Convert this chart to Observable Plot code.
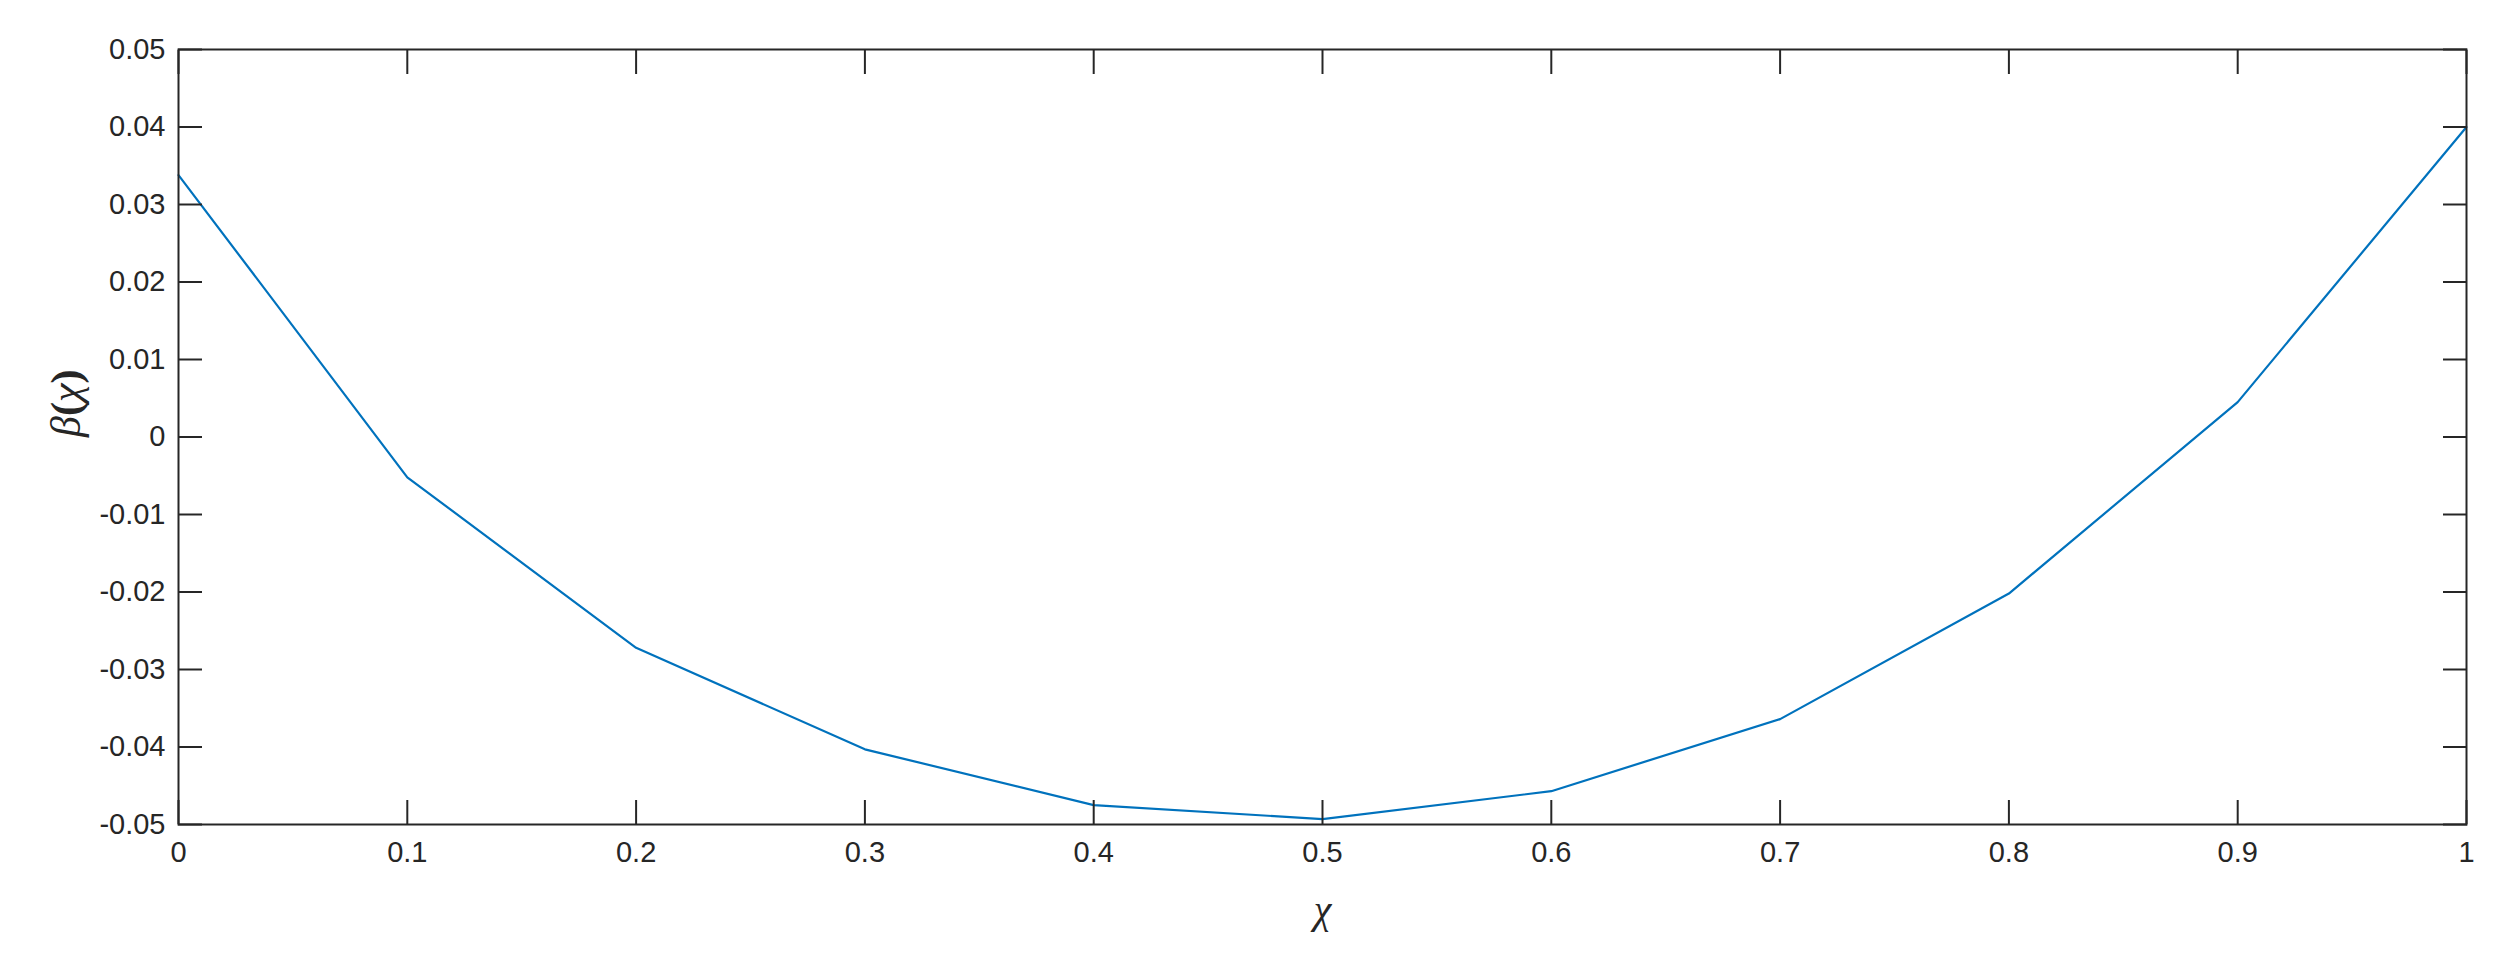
<!DOCTYPE html>
<html>
<head>
<meta charset="utf-8">
<script src="https://cdn.jsdelivr.net/npm/d3@7"></script>
<script src="https://cdn.jsdelivr.net/npm/@observablehq/plot@0.6"></script>
<style>
  html, body { margin: 0; padding: 0; background: #fff; }
</style>
</head>
<body>
<div id="chart"></div>
<script>
// ---- data ----
const chiValues  = [0, 0.1, 0.2, 0.3, 0.4, 0.5, 0.6, 0.7, 0.8, 0.9, 1];
const betaValues = [0.0338, -0.0052, -0.0272, -0.0403, -0.0475, -0.0493, -0.0457, -0.0364, -0.0202, 0.0045, 0.0400];
const xTicks = [0, 0.1, 0.2, 0.3, 0.4, 0.5, 0.6, 0.7, 0.8, 0.9, 1];
const xTickLabels = ["0", "0.1", "0.2", "0.3", "0.4", "0.5", "0.6", "0.7", "0.8", "0.9", "1"];
const yTicks = [-0.05, -0.04, -0.03, -0.02, -0.01, 0, 0.01, 0.02, 0.03, 0.04, 0.05];
const yTickLabels = ["-0.05", "-0.04", "-0.03", "-0.02", "-0.01", "0", "0.01", "0.02", "0.03", "0.04", "0.05"];
const xLabel = "χ";
const yLabel = "β(χ)";

const data = chiValues.map((x, i) => ({x, y: betaValues[i]}));
const ink = "#262626";
const sans = "'Liberation Sans', Arial, sans-serif";
const serif = "'Liberation Serif', 'DejaVu Serif', serif";

const chart = Plot.plot({
  width: 2520,
  height: 968,
  marginLeft: 178,
  marginRight: 54,
  marginTop: 49,
  marginBottom: 144,
  style: {fontFamily: sans, fontSize: "28px", color: ink, background: "#fff"},
  x: {domain: [0, 1]},
  y: {domain: [-0.05, 0.05]},
  marks: [
    Plot.line(data, {x: "x", y: "y", stroke: "#0072BD", strokeWidth: 2.2}),
    Plot.axisX({anchor: "bottom", ticks: xTicks, tickFormat: d => xTickLabels[xTicks.indexOf(d)],
                tickSize: -24, tickPadding: 41, stroke: ink, strokeWidth: 2, fill: ink,
                fontSize: 29, fontFamily: sans, label: null}),
    Plot.axisX({anchor: "top", ticks: xTicks, tickFormat: () => "",
                tickSize: -24, stroke: ink, strokeWidth: 2, label: null}),
    Plot.axisY({anchor: "left", ticks: yTicks, tickFormat: d => yTickLabels[yTicks.indexOf(d)],
                tickSize: -24, tickPadding: 37, stroke: ink, strokeWidth: 2, fill: ink,
                fontSize: 29, fontFamily: sans, label: null}),
    Plot.axisY({anchor: "right", ticks: yTicks, tickFormat: () => "",
                tickSize: -24, stroke: ink, strokeWidth: 2, label: null}),
    Plot.frame({stroke: ink, strokeWidth: 2}),
    Plot.text([xLabel], {frameAnchor: "bottom", dy: 86, text: d => d, fontFamily: serif,
                fontStyle: "italic", fontSize: 40, fill: ink, lineAnchor: "middle"}),
    Plot.text([yLabel], {frameAnchor: "left", dx: -112, text: d => d, rotate: -90, fontFamily: serif,
                fontSize: 42, fill: ink, lineAnchor: "middle"})
  ]
});

document.getElementById("chart").appendChild(chart);

// style the y label: italic Greek letters, upright parentheses
chart.querySelectorAll("text").forEach(t => {
  if (t.textContent === yLabel) {
    t.textContent = "";
    const ns = "http://www.w3.org/2000/svg";
    [["β", "italic", "normal"], ["(", "normal", "bold"], ["χ", "italic", "normal"], [")", "normal", "bold"]].forEach(([s, st, wt]) => {
      const ts = document.createElementNS(ns, "tspan");
      ts.textContent = s;
      ts.setAttribute("font-style", st);
      ts.setAttribute("font-weight", wt);
      t.appendChild(ts);
    });
  }
});
</script>
</body>
</html>
